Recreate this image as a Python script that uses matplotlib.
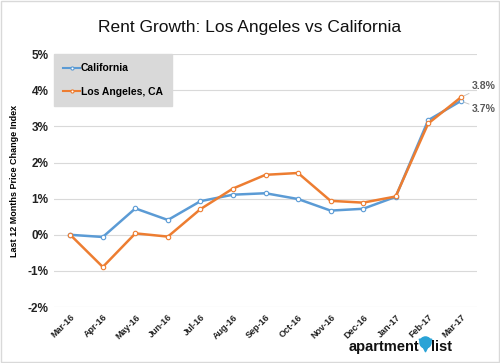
import numpy as np
import matplotlib.pyplot as plt
from matplotlib.patches import Rectangle

months = ["Mar-16", "Apr-16", "May-16", "Jun-16", "Jul-16", "Aug-16", "Sep-16",
          "Oct-16", "Nov-16", "Dec-16", "Jan-17", "Feb-17", "Mar-17"]
california = [0.0, -0.06, 0.73, 0.41, 0.93, 1.11, 1.15, 0.99, 0.67, 0.72, 1.05, 3.17, 3.70]
los_angeles = [0.0, -0.89, 0.04, -0.05, 0.71, 1.28, 1.66, 1.71, 0.94, 0.89, 1.06, 3.08, 3.80]
yticks = [-2, -1, 0, 1, 2, 3, 4, 5]

blue = "#5B9BD5"
orange = "#ED7D31"

plt.rcParams['font.family'] = ['Liberation Sans', 'DejaVu Sans']
fig = plt.figure(figsize=(5, 3.63), dpi=100)
ax = fig.add_axes([0.108, 0.154, 0.846, 0.697])

x = np.arange(len(months))
ax.plot(x, california, color=blue, lw=1.8, marker='o', ms=3.2, mfc='white',
        mec=blue, mew=0.8, label="California", zorder=3)
ax.plot(x, los_angeles, color=orange, lw=1.8, marker='o', ms=3.2, mfc='white',
        mec=orange, mew=0.8, label="Los Angeles, CA", zorder=4)

ax.set_xlim(-0.5, len(months) - 0.5)
ax.set_ylim(-2, 5)
ax.set_yticks(yticks)
ax.set_yticklabels([f"{v}%" for v in yticks], fontsize=8.5, fontweight='bold', color='#222222')
ax.set_xticks(x)
ax.set_xticklabels(months, rotation=45, ha='right', rotation_mode='anchor',
                   fontsize=6.5, fontweight='bold', color='#222222')
ax.tick_params(length=0, pad=4)
ax.grid(axis='y', color='#d9d9d9', lw=0.8)
ax.set_axisbelow(True)
for s in ax.spines.values():
    s.set_visible(False)
ax.set_ylabel("Last 12 Months Price Change Index", fontsize=6.5, fontweight='bold', labelpad=6)

leg = ax.legend(loc='upper left', bbox_to_anchor=(0.0, 1.0), fontsize=7.5, frameon=True,
                fancybox=False, borderpad=0.9, labelspacing=1.3, handlelength=1.6,
                handletextpad=0.1, borderaxespad=0, markerscale=0.7)
leg.get_frame().set_facecolor('#d9d9d9')
leg.get_frame().set_edgecolor('#d9d9d9')
leg.get_frame().set_alpha(1)
for t in leg.get_texts():
    t.set_fontweight('bold')
for h in leg.legend_handles:
    h.set_linewidth(1.5)

ax.annotate("3.8%", xy=(x[-1], los_angeles[-1]), xytext=(8, 8), textcoords='offset points',
            fontsize=7.5, fontweight='bold', color='#595959', va='center',
            arrowprops=dict(arrowstyle='-', color='#bfbfbf', lw=0.6, shrinkA=0, shrinkB=2))
ax.annotate("3.7%", xy=(x[-1], california[-1]), xytext=(8, -6), textcoords='offset points',
            fontsize=7.5, fontweight='bold', color='#595959', va='center',
            arrowprops=dict(arrowstyle='-', color='#bfbfbf', lw=0.6, shrinkA=0, shrinkB=2))

fig.text(0.5, 0.925, "Rent Growth: Los Angeles vs California", ha='center', va='center',
         fontsize=12.5, color='#111111')

# logo
fig.text(0.838, 0.045, "apartment", ha='right', va='center', fontsize=10.5,
         fontweight='bold', color='#111111')
fig.text(0.862, 0.045, "list", ha='left', va='center', fontsize=10.5,
         fontweight='bold', color='#111111')
fig.lines.append(plt.Line2D([0.85], [0.05], marker=r'$\blacktriangledown$', color='#2aa3d6',
                            ms=9, transform=fig.transFigure))
fig.lines.append(plt.Line2D([0.85], [0.058], marker='o', color='#2aa3d6',
                            ms=8, transform=fig.transFigure))

fig.patches.append(Rectangle((0.002, 0.003), 0.996, 0.994, transform=fig.transFigure,
                             fill=False, edgecolor='#d9d9d9', lw=1))

fig.savefig("out.png", dpi=100)
